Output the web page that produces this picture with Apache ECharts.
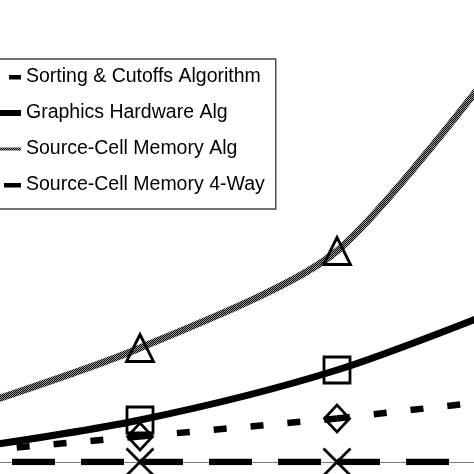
<!DOCTYPE html>
<html>
<head>
<meta charset="utf-8">
<script src="https://cdn.jsdelivr.net/npm/echarts@6/dist/echarts.min.js"></script>
<style>
  html, body { margin: 0; padding: 0; width: 474px; height: 474px; overflow: hidden; background: #fff; }
  #chart { position: absolute; left: -200px; top: -100px; width: 900px; height: 574px; }
</style>
</head>
<body>
<div id="chart"></div>
<script>
// ---- data ----
const categories = ['P1', 'P2', 'P3', 'P4'];
const seriesNames = [
  'Sorting & Cutoffs Algorithm',
  'Graphics Hardware Alg',
  'Source-Cell Memory Alg',
  'Source-Cell Memory 4-Way'
];
const sortingCutoffs = [8, 25.5, 43.5, 66];
const graphicsHardware = [10, 42, 92, 166];
const sourceCellMemory = [45, 114, 211, 446];
const sourceCell4Way = [0, 0, 0, 0];

// ---- hatched (checker) pattern for the Source-Cell Memory Alg line ----
const pc = document.createElement('canvas');
pc.width = 2; pc.height = 2;
const pctx = pc.getContext('2d');
pctx.fillStyle = '#9a9a9a'; pctx.fillRect(0, 0, 2, 2);
pctx.fillStyle = '#000'; pctx.fillRect(0, 0, 1, 1); pctx.fillRect(1, 1, 1, 1);
const hatch = { image: pc, repeat: 'repeat' };

const markerStyle = { color: 'transparent', borderColor: '#000', borderWidth: 2.8 };

// dashed lines restart their dash pattern at every point: one series per segment
function segments(name, values, lineStyle) {
  const out = [];
  for (let i = 0; i < values.length - 1; i++) {
    out.push({
      type: 'line', name: name, silent: true, symbol: 'none', z: 2,
      data: values.map((v, j) => (j === i || j === i + 1) ? v : '-'),
      lineStyle: lineStyle, itemStyle: { color: '#000' }
    });
  }
  return out;
}

const sortDash = { color: '#000', width: 6.5, type: [13, 24] };
const wayDash = { color: '#000', width: 6.5, type: [43, 26] };

const series = [].concat(
  segments(seriesNames[3], sourceCell4Way, wayDash),
  segments(seriesNames[0], sortingCutoffs, sortDash),
  [
    {
      type: 'line', name: seriesNames[2], data: sourceCellMemory, smooth: 0.25, z: 3,
      symbol: 'triangle', symbolSize: [27, 27], itemStyle: markerStyle,
      lineStyle: { color: hatch, width: 7 }
    },
    {
      type: 'line', name: seriesNames[1], data: graphicsHardware, smooth: 0.3, z: 3,
      symbol: 'rect', symbolSize: [26, 26], itemStyle: markerStyle,
      lineStyle: { color: '#000', width: 7 }
    },
    {
      type: 'line', name: seriesNames[0], data: sortingCutoffs, z: 4,
      symbol: 'diamond', symbolSize: [25, 27], itemStyle: markerStyle,
      lineStyle: { width: 0, opacity: 0 }
    },
    {
      type: 'line', name: seriesNames[3], data: sourceCell4Way, z: 4,
      symbol: 'path://M0,0L10,10M10,0L0,10', symbolSize: [27, 27],
      itemStyle: { color: 'transparent', borderColor: '#000', borderWidth: 2.8 },
      lineStyle: { width: 0, opacity: 0 }
    }
  ]
);

const tiny = 'M0,0L0.01,0L0,0.01Z M22,6L21.99,6L22,5.99Z ';
const legendIcons = [
  'path://' + tiny + 'M10,1H22V5.5H10Z',
  'path://' + tiny + 'M0,0H22V6H0Z',
  'path://' + tiny + 'M0,1.5H22V4.5H0Z',
  'path://' + tiny + 'M5,1H22V5.5H5Z'
];
const legendColors = ['#000', '#000', hatch, '#000'];

const chart = echarts.init(document.getElementById('chart'), null, { renderer: 'canvas' });
chart.setOption({
  animation: false,
  backgroundColor: '#fff',
  grid: { left: 143, width: 591, top: 62, bottom: 12 },
  xAxis: {
    type: 'category', data: categories, boundaryGap: false,
    axisLine: { show: true, lineStyle: { color: '#777', width: 1 } },
    axisTick: { show: false }, axisLabel: { show: false }, splitLine: { show: false }
  },
  yAxis: { type: 'value', min: 0, max: 500, show: false },
  legend: {
    orient: 'vertical', left: 193, top: 159,
    padding: [7, 11, 13, 6],
    itemWidth: 22, itemHeight: 6, itemGap: 14,
    borderColor: '#444', borderWidth: 1.4,
    selectedMode: false,
    textStyle: { color: '#000', fontSize: 19.5, lineHeight: 22, fontFamily: 'Liberation Sans, Arial, sans-serif' },
    data: seriesNames.map((n, i) => ({
      name: n, icon: legendIcons[i],
      itemStyle: { color: legendColors[i], borderWidth: 0 }
    }))
  },
  series: series
});
</script>
</body>
</html>
